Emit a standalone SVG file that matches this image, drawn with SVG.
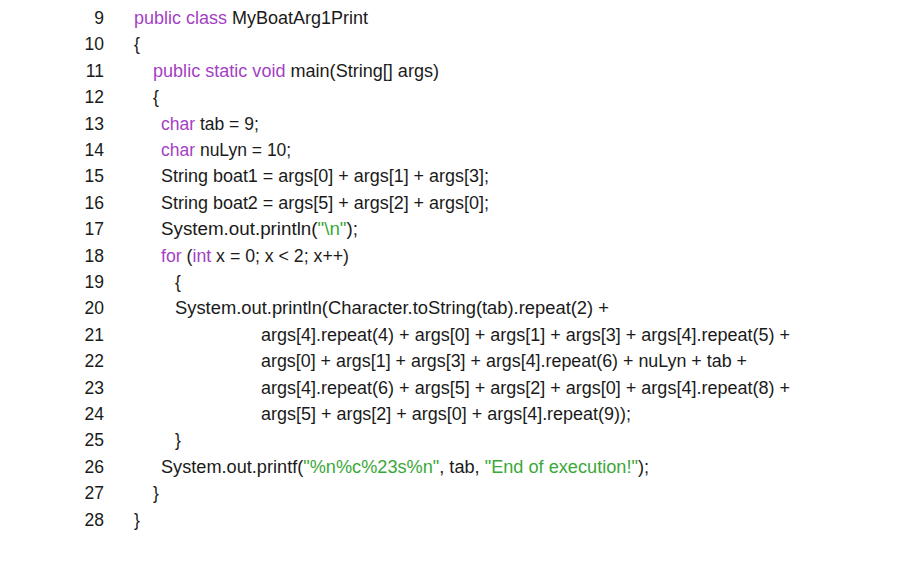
<svg xmlns="http://www.w3.org/2000/svg" width="911" height="568" viewBox="0 0 911 568">
<style>
text{font-family:"Liberation Sans",Arial,sans-serif;font-size:17.5px;fill:#1a1a1a}
.n{text-anchor:end}
.k{fill:#a43fc4}
.s{fill:#3aa838}
</style>
<rect width="911" height="568" fill="#fff"/>
<g id="numbers">
<text class="n" x="104" y="24">9</text>
<text class="n" x="104" y="50">10</text>
<text class="n" x="104" y="77">11</text>
<text class="n" x="104" y="103">12</text>
<text class="n" x="104" y="130">13</text>
<text class="n" x="104" y="156">14</text>
<text class="n" x="104" y="182">15</text>
<text class="n" x="104" y="209">16</text>
<text class="n" x="104" y="235">17</text>
<text class="n" x="104" y="262">18</text>
<text class="n" x="104" y="288">19</text>
<text class="n" x="104" y="314">20</text>
<text class="n" x="104" y="341">21</text>
<text class="n" x="104" y="367">22</text>
<text class="n" x="104" y="394">23</text>
<text class="n" x="104" y="420">24</text>
<text class="n" x="104" y="446">25</text>
<text class="n" x="104" y="473">26</text>
<text class="n" x="104" y="499">27</text>
<text class="n" x="104" y="526">28</text>
</g>
<g id="code">
<text x="134" y="24" textLength="234" lengthAdjust="spacingAndGlyphs"><tspan class="k">public class</tspan> MyBoatArg1Print</text>
<text x="134" y="50">{</text>
<text x="153" y="77" textLength="286" lengthAdjust="spacingAndGlyphs"><tspan class="k">public static void</tspan> main(String[] args)</text>
<text x="153" y="103">{</text>
<text x="161" y="130"><tspan class="k">char</tspan> tab = 9;</text>
<text x="161" y="156"><tspan class="k">char</tspan> nuLyn = 10;</text>
<text x="161" y="182" textLength="328" lengthAdjust="spacingAndGlyphs">String boat1 = args[0] + args[1] + args[3];</text>
<text x="161" y="209" textLength="328" lengthAdjust="spacingAndGlyphs">String boat2 = args[5] + args[2] + args[0];</text>
<text x="161" y="235" textLength="197" lengthAdjust="spacingAndGlyphs">System.out.println(<tspan class="s">"\n"</tspan>);</text>
<text x="161" y="262" textLength="188" lengthAdjust="spacingAndGlyphs"><tspan class="k">for</tspan> (<tspan class="k">int</tspan> x = 0; x &lt; 2; x++)</text>
<text x="175" y="288">{</text>
<text x="175" y="314" textLength="434" lengthAdjust="spacingAndGlyphs">System.out.println(Character.toString(tab).repeat(2) +</text>
<text x="261" y="341" textLength="529" lengthAdjust="spacingAndGlyphs">args[4].repeat(4) + args[0] + args[1] + args[3] + args[4].repeat(5) +</text>
<text x="261" y="367" textLength="486" lengthAdjust="spacingAndGlyphs">args[0] + args[1] + args[3] + args[4].repeat(6) + nuLyn + tab +</text>
<text x="261" y="394" textLength="529" lengthAdjust="spacingAndGlyphs">args[4].repeat(6) + args[5] + args[2] + args[0] + args[4].repeat(8) +</text>
<text x="261" y="420" textLength="370" lengthAdjust="spacingAndGlyphs">args[5] + args[2] + args[0] + args[4].repeat(9));</text>
<text x="175" y="446">}</text>
<text x="161" y="473" textLength="488" lengthAdjust="spacingAndGlyphs">System.out.printf(<tspan class="s">"%n%c%23s%n"</tspan>, tab, <tspan class="s">"End of execution!"</tspan>);</text>
<text x="153" y="499">}</text>
<text x="134" y="526">}</text>
</g>
</svg>
